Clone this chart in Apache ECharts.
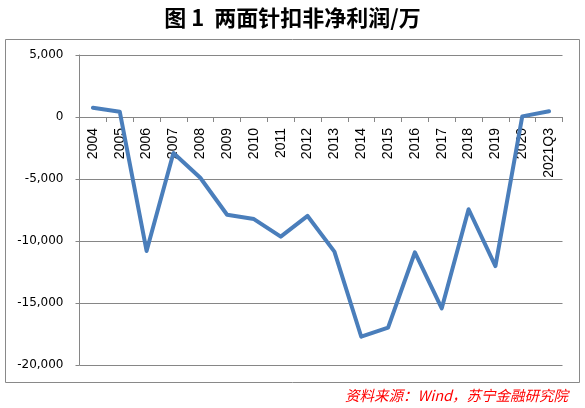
<!DOCTYPE html>
<html>
<head>
<meta charset="utf-8">
<script src="https://cdn.jsdelivr.net/npm/echarts@6/dist/echarts.min.js"></script>
<style>
html,body{margin:0;padding:0;background:#fff;}
#chart{width:585px;height:408px;}
</style>
</head>
<body>
<div id="chart"></div>
<script>
var categories = ['2004','2005','2006','2007','2008','2009','2010','2011','2012','2013','2014','2015','2016','2017','2018','2019','2020','2021Q3'];
var profitValues = [750, 430, -10800, -2900, -4900, -7880, -8230, -9650, -7980, -10860, -17720, -16990, -10910, -15430, -7440, -12020, 50, 460];
var yTicks = { min: -20000, max: 5000, interval: 5000 };
var titleText = '图 1  两面针扣非净利润/万';
var sourceText = '资料来源：Wind，苏宁金融研究院';

var W = 585, H = 408;
var gridBox = { left: 79.5, right: 22.5, top: 55, bottom: 43 };
var plotHeight = H - gridBox.top - gridBox.bottom;
// place the category axis on the zero line of the value scale
var zeroOffset = -plotHeight * (0 - yTicks.min) / (yTicks.max - yTicks.min);

var chart = echarts.init(document.getElementById('chart'));
chart.setOption({
  backgroundColor: '#ffffff',
  animation: false,
  title: {
    text: titleText,
    left: 'center',
    top: 2,
    textStyle: { fontFamily: 'Noto Sans CJK SC', fontSize: 22, fontWeight: 'bold', color: '#000' }
  },
  graphic: [
    { type: 'rect', shape: { x: 5.5, y: 39.5, width: 574, height: 343 }, style: { fill: 'none', stroke: '#898989', lineWidth: 1 }, silent: true, z: -1 },
    { type: 'text', right: 17, top: 388, style: { text: sourceText, fill: '#ff0000', font: 'italic 14.5px "Noto Sans CJK SC"' } }
  ],
  grid: { left: gridBox.left, right: gridBox.right, top: gridBox.top, bottom: gridBox.bottom, containLabel: false, outerBoundsMode: 'none' },
  xAxis: {
    type: 'category',
    data: categories,
    position: 'bottom',
    offset: zeroOffset,
    boundaryGap: true,
    axisLine: { show: true, onZero: false, lineStyle: { color: '#868686', width: 1 } },
    axisTick: { show: true, length: 5, inside: false, alignWithLabel: false, lineStyle: { color: '#868686' } },
    axisLabel: { rotate: 90, margin: 11, interval: 0, fontFamily: 'Liberation Sans', fontSize: 14, color: '#000' },
    splitLine: { show: false }
  },
  yAxis: {
    type: 'value',
    min: yTicks.min,
    max: yTicks.max,
    interval: yTicks.interval,
    axisLine: { show: true, onZero: false, lineStyle: { color: '#868686', width: 1 } },
    axisTick: { show: true, length: 4, lineStyle: { color: '#868686' } },
    axisLabel: {
      margin: 16, fontFamily: 'DejaVu Sans', fontSize: 12, color: '#000',
      formatter: function (v) { return v.toLocaleString('en-US'); }
    },
    splitLine: { show: true, lineStyle: { color: '#868686', width: 1 } }
  },
  series: [{
    type: 'line',
    data: profitValues,
    showSymbol: false,
    symbol: 'none',
    lineStyle: { color: '#4A7EBB', width: 4, join: 'round', cap: 'round' },
    itemStyle: { color: '#4A7EBB' }
  }]
});
</script>
</body>
</html>
